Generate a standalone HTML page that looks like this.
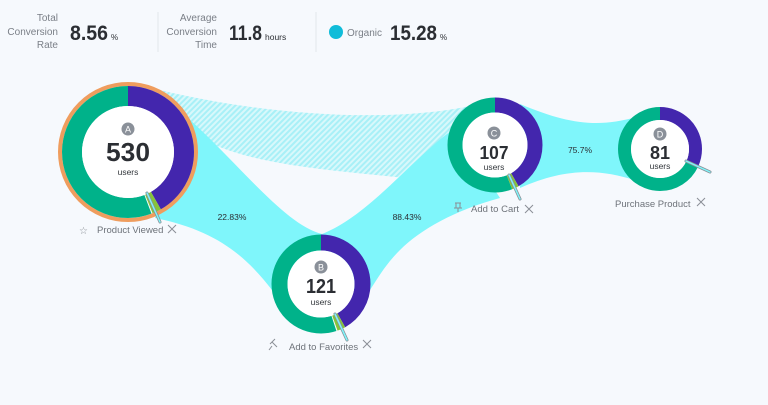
<!DOCTYPE html>
<html><head><meta charset="utf-8"><style>
html,body{margin:0;padding:0;background:#f6f9fd;}
svg{display:block;font-family:"Liberation Sans",sans-serif;}
</style></head><body>
<svg width="768" height="405" viewBox="0 0 768 405">
<defs>
<pattern id="h" width="4" height="4" patternUnits="userSpaceOnUse" patternTransform="rotate(45)">
<rect width="4" height="4" fill="#d8f8fb"/><rect width="2" height="4" fill="#a8f0f7"/>
</pattern>
</defs>
<rect width="768" height="405" fill="#f6f9fd"/>
<!-- header -->
<g fill="#7a7f87" font-size="10" text-anchor="end">
<text x="58" y="21">Total</text><text x="58" y="35">Conversion</text><text x="58" y="48">Rate</text>
<text x="217" y="21">Average</text><text x="217" y="35">Conversion</text><text x="217" y="48">Time</text>
</g>
<g fill="#2b2e33" font-weight="bold" font-size="21">
<text x="70" y="40" textLength="38" lengthAdjust="spacingAndGlyphs">8.56</text>
<text x="229" y="40" textLength="33" lengthAdjust="spacingAndGlyphs">11.8</text>
<text x="390" y="40" textLength="47" lengthAdjust="spacingAndGlyphs">15.28</text>
</g>
<g fill="#2b2e33" font-size="8">
<text x="111" y="40">%</text><text x="265" y="40" font-size="8.5">hours</text><text x="440" y="40">%</text>
</g>
<line x1="158" y1="12" x2="158" y2="52" stroke="#e3e7ec"/>
<line x1="316" y1="12" x2="316" y2="52" stroke="#e3e7ec"/>
<circle cx="336" cy="32" r="7" fill="#10bcd9"/>
<text x="347" y="36" font-size="10" fill="#7a7f87">Organic</text>

<!-- flows -->
<path d="M160,90 C250,112 380,125 470,106 L470,188 C390,170 260,175 195,135 Z" fill="url(#h)"/>
<path d="M188,118 C240,165 285,225 322,234 L322,290 L272,290 C245,255 215,230 155,218 Z" fill="#7ff6fb"/>
<path d="M322,234 C370,215 410,160 455,128 L500,198 C455,210 420,230 400,250 C385,265 378,278 370,290 L322,290 Z" fill="#7ff6fb"/>
<path d="M520,104 C570,125 600,128 640,116 L640,182 C600,168 565,168 520,188 Z" fill="#7ff6fb"/>

<!-- A -->
<circle cx="128" cy="152" r="68" fill="none" stroke="#ef9d5e" stroke-width="4"/>
<g transform="rotate(-90 128 152)" fill="none" stroke-width="20">
<circle cx="128" cy="152" r="56" stroke="#00b28a" stroke-dasharray="196.5 400" stroke-dashoffset="-155.4"/>
<circle cx="128" cy="152" r="56" stroke="#4326ad" stroke-dasharray="146.6 400"/>
<circle cx="128" cy="152" r="56" stroke="#86c43a" stroke-dasharray="7.8 400" stroke-dashoffset="-146.6"/>
</g>
<circle cx="128" cy="152" r="46" fill="#fff"/>
<!-- B -->
<g transform="rotate(-90 321 284)" fill="none" stroke-width="16">
<circle cx="321" cy="284" r="41.5" stroke="#00b28a" stroke-dasharray="147 400" stroke-dashoffset="-117"/>
<circle cx="321" cy="284" r="41.5" stroke="#4326ad" stroke-dasharray="109 400"/>
<circle cx="321" cy="284" r="41.5" stroke="#86c43a" stroke-dasharray="7 400" stroke-dashoffset="-109"/>
</g>
<circle cx="321" cy="284" r="33.5" fill="#fff"/>
<!-- C -->
<g transform="rotate(-90 495 145)" fill="none" stroke-width="15">
<circle cx="495" cy="145" r="40" stroke="#00b28a" stroke-dasharray="141 400" stroke-dashoffset="-110.7"/>
<circle cx="495" cy="145" r="40" stroke="#4326ad" stroke-dasharray="104.7 400"/>
<circle cx="495" cy="145" r="40" stroke="#86c43a" stroke-dasharray="6 400" stroke-dashoffset="-104.7"/>
</g>
<circle cx="495" cy="145" r="32.5" fill="#fff"/>
<!-- D -->
<g transform="rotate(-90 660 149)" fill="none" stroke-width="13">
<circle cx="660" cy="149" r="35.5" stroke="#00b28a" stroke-dasharray="152 400" stroke-dashoffset="-71.3"/>
<circle cx="660" cy="149" r="35.5" stroke="#4326ad" stroke-dasharray="71.3 400"/>
</g>
<circle cx="660" cy="149" r="29" fill="#fff"/>

<!-- pointers -->
<g stroke-linecap="round">
<g stroke="#8a8f96" stroke-width="3"><line x1="147" y1="193" x2="160" y2="222"/><line x1="335" y1="314" x2="347" y2="340"/><line x1="509" y1="175" x2="520" y2="199"/><line x1="686" y1="161" x2="710" y2="172"/></g>
<g stroke="#7ff6fb" stroke-width="1.5"><line x1="147" y1="193" x2="160" y2="222"/><line x1="335" y1="314" x2="347" y2="340"/><line x1="509" y1="175" x2="520" y2="199"/><line x1="686" y1="161" x2="710" y2="172"/></g>
</g>

<!-- badges & numbers -->
<g fill="#8a9099"><circle cx="128" cy="129" r="6.5"/><circle cx="321" cy="267" r="6.5"/><circle cx="494" cy="133" r="6.5"/><circle cx="660" cy="134" r="6.5"/></g>
<g fill="#fff" font-size="9" text-anchor="middle"><text x="128" y="132.5">A</text><text x="321" y="270.5">B</text><text x="494" y="136.5">C</text><text x="660" y="137.5">D</text></g>
<g fill="#2b2e33" font-weight="bold" text-anchor="middle">
<text x="128" y="161" font-size="26" textLength="44" lengthAdjust="spacingAndGlyphs">530</text>
<text x="321" y="293" font-size="20" textLength="30" lengthAdjust="spacingAndGlyphs">121</text>
<text x="494" y="159" font-size="18" textLength="29" lengthAdjust="spacingAndGlyphs">107</text>
<text x="660" y="159" font-size="18">81</text>
</g>
<g fill="#33373c" font-size="8.5" text-anchor="middle">
<text x="128" y="175">users</text><text x="321" y="305">users</text><text x="494" y="170">users</text><text x="660" y="169">users</text>
</g>
<g fill="#2b2e33" font-size="8.5" text-anchor="middle">
<text x="232" y="220">22.83%</text><text x="407" y="220">88.43%</text><text x="580" y="153">75.7%</text>
</g>

<!-- labels -->
<g fill="#6e737a" font-size="9.5">
<text x="97" y="233">Product Viewed</text>
<text x="289" y="350">Add to Favorites</text>
<text x="471" y="212">Add to Cart</text>
<text x="615" y="207">Purchase Product</text>
</g>
<g fill="#8a8f96" font-size="10">
<text x="79" y="234">☆</text>
</g>
<g stroke="#8a8f96" stroke-width="1" fill="none">
<path d="M168,225 l8,8 M176,225 l-8,8"/>
<path d="M363,340 l8,8 M371,340 l-8,8"/>
<path d="M525,205 l8,8 M533,205 l-8,8"/>
<path d="M697,198 l8,8 M705,198 l-8,8"/>
<path d="M272,342 l5,5 M270,344 l5,-5 M272,346 l-3,4"/>
<path d="M455,203 h6 M456,203 v5 M460,203 v5 M454,208 h8 M458,208 v4"/>
</g>
</svg>
</body></html>
